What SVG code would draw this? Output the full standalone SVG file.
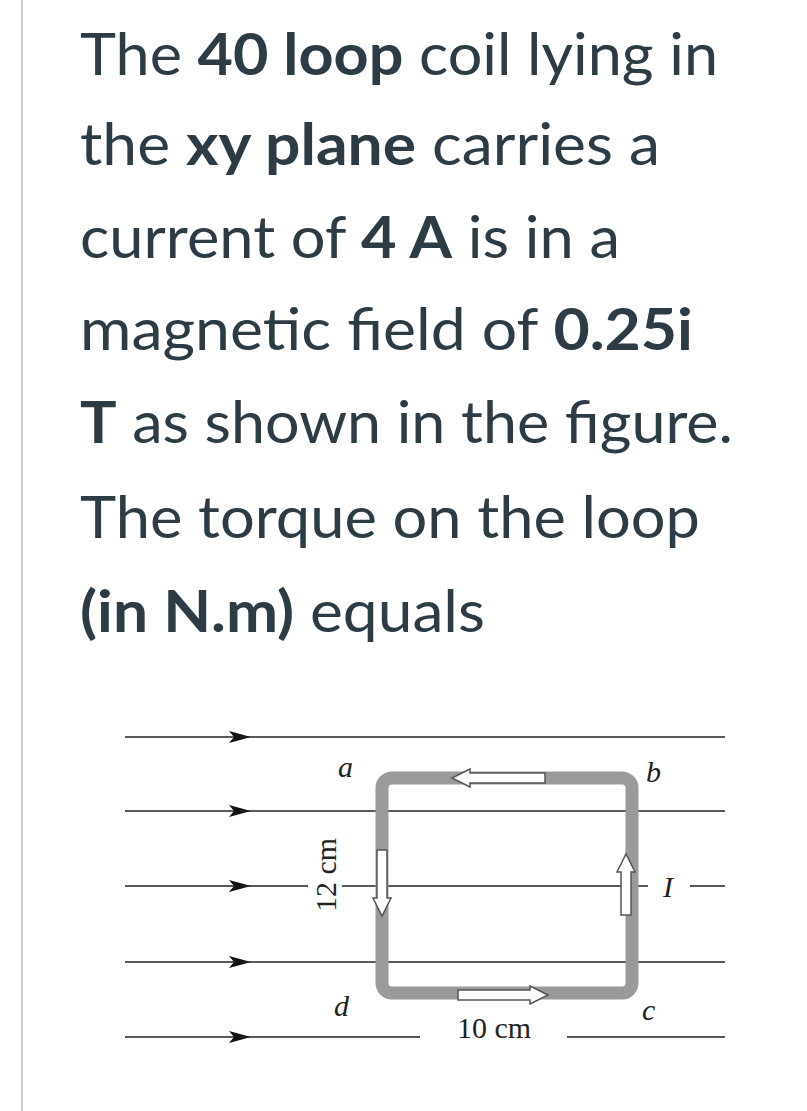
<svg xmlns="http://www.w3.org/2000/svg" width="807" height="1111" viewBox="0 0 807 1111">
<style>
.t{font-family:Lato,"Open Sans",sans-serif;font-size:58px;fill:#2d3b45}
.b{font-weight:bold}
.fl{stroke:#222;stroke-width:1.5;fill:none}
.lbl{font-family:"Liberation Serif",serif;font-style:italic;font-size:30px;fill:#222}
.dim{font-family:"Liberation Serif",serif;font-size:30px;fill:#222}
.ar{fill:#fff;stroke:#555;stroke-width:1.5}
</style>
<defs><marker id="m" markerWidth="22" markerHeight="12" refX="11" refY="6" orient="auto" markerUnits="userSpaceOnUse"><path d="M0,0 L22,6 L0,12 L5,6Z" fill="#111"/></marker></defs>
<rect width="807" height="1111" fill="#fff"/>
<line x1="22" y1="0" x2="22" y2="1111" stroke="#ccc" stroke-width="2"/>
<g id="text">
<text class="t" x="80" y="75" textLength="638" lengthAdjust="spacingAndGlyphs">The <tspan class="b">40 loop</tspan> coil lying in</text>
<text class="t" x="80" y="165" textLength="580" lengthAdjust="spacingAndGlyphs">the <tspan class="b">xy plane</tspan> carries a</text>
<text class="t" x="80" y="258" textLength="540" lengthAdjust="spacingAndGlyphs">current of <tspan class="b">4 A</tspan> is in a</text>
<text class="t" x="80" y="350" textLength="613" lengthAdjust="spacingAndGlyphs">magnetic field of  <tspan class="b">0.25i</tspan></text>
<text class="t" x="80" y="443" textLength="653" lengthAdjust="spacingAndGlyphs"><tspan class="b">T</tspan> as shown in the figure.</text>
<text class="t" x="80" y="538" textLength="620" lengthAdjust="spacingAndGlyphs">The torque on the loop</text>
<text class="t" x="80" y="632" textLength="405" lengthAdjust="spacingAndGlyphs"><tspan class="b">(in N.m)</tspan> equals</text>
</g>
<g id="connectors">
<path class="fl" d="M125,737 H240" marker-end="url(#m)"/><path class="fl" d="M240,737 H725"/>
<path class="fl" d="M125,811 H240" marker-end="url(#m)"/><path class="fl" d="M240,811 H725"/>
<path class="fl" d="M125,886 H240" marker-end="url(#m)"/><path class="fl" d="M240,886 H308 M342,886 H648 M690,886 H725"/>
<path class="fl" d="M125,962 H240" marker-end="url(#m)"/><path class="fl" d="M240,962 H725"/>
<path class="fl" d="M125,1037 H240" marker-end="url(#m)"/><path class="fl" d="M240,1037 H420 M567,1037 H725"/>
</g>
<g id="loop">
<rect x="382" y="778" width="250" height="215" rx="10" fill="none" stroke="#9a9a9a" stroke-width="13"/>
<path class="ar" d="M545,773 H470 V769 L452,778 L470,787 V783 H545Z"/>
<path class="ar" d="M377,850 V898 H373 L382,916 L391,898 H387 V850Z"/>
<path class="ar" d="M621,915 V872 H617 L626,854 L635,872 H631 V915Z"/>
<path class="ar" d="M458,990 H530 V986 L548,995 L530,1004 V1000 H458Z"/>
</g>
<g id="labels">
<text class="lbl" x="338" y="777">a</text>
<text class="lbl" x="646" y="782">b</text>
<text class="lbl" x="334" y="1016">d</text>
<text class="lbl" x="642" y="1020">c</text>
<text class="lbl" x="663" y="897">I</text>
<text class="dim" transform="translate(336,875) rotate(-90)" text-anchor="middle">12 cm</text>
<text class="dim" x="494" y="1038" text-anchor="middle">10 cm</text>
</g>
</svg>
